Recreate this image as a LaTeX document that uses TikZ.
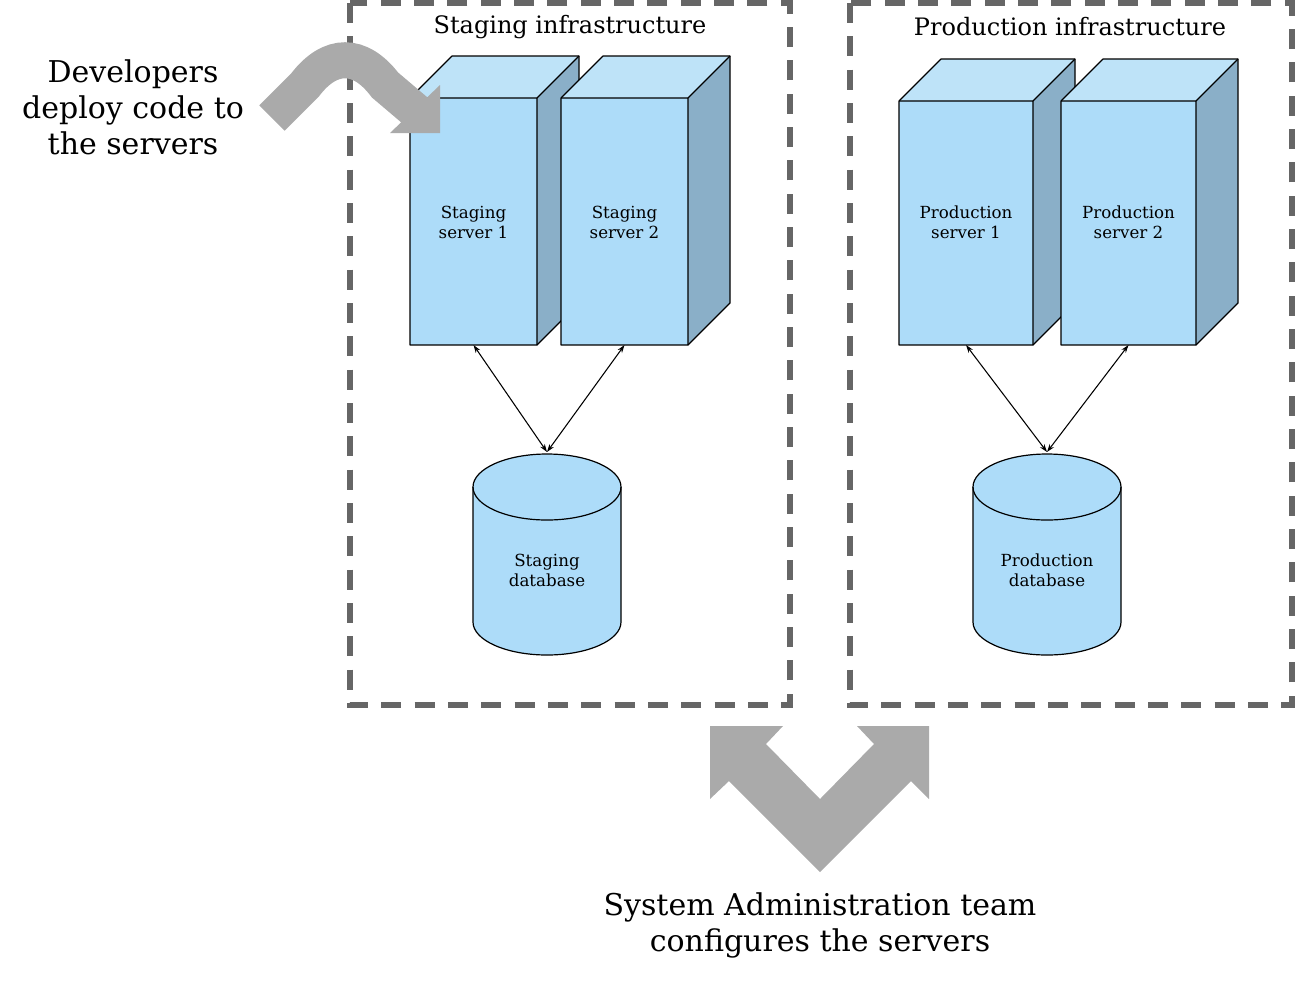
\documentclass[tikz,border=0pt]{standalone}
\usepackage{fontspec}
\setmainfont{DejaVu Serif}
\usetikzlibrary{arrows.meta,shapes.geometric}
\definecolor{front}{HTML}{ADDCF9}
\definecolor{topc}{HTML}{BEE3F8}
\definecolor{side}{HTML}{8AAFC8}
\definecolor{dash}{HTML}{666666}
\definecolor{arr}{HTML}{AAAAAA}
\begin{document}
\begin{tikzpicture}[x=0.75pt,y=-0.75pt,
  box/.style={draw=dash,line width=4.5pt,dash pattern=on 15pt off 10pt},
  face/.style={draw=black,line width=0.9pt,line join=round},
  lbl/.style={font=\fontsize{12.5}{15}\selectfont,align=center},
  title/.style={font=\fontsize{18}{22}\selectfont},
  big/.style={font=\fontsize{22.5}{27}\selectfont,align=center},
  link/.style={{Stealth[length=6pt,width=4pt]}-{Stealth[length=6pt,width=4pt]},line width=0.8pt}]
\useasboundingbox (0,0) rectangle (1303,997);
% boxes
\draw[box] (350,3) rectangle (790,705);
\draw[box] (850,3) rectangle (1292,705);
\node[title] (tS) at (570,27) {Staging infrastructure};
\node[title] (tP) at (1070,27) {Production infrastructure};
% servers
\newcommand{\srv}[6]{% x1 x2 y1 y2 name text
  \fill[topc] (#1,#3) -- (#1+42,#3-42) -- (#2+42,#3-42) -- (#2,#3) -- cycle;
  \fill[side] (#2,#3) -- (#2+42,#3-42) -- (#2+42,#4-42) -- (#2,#4) -- cycle;
  \fill[front] (#1,#3) rectangle (#2,#4);
  \draw[face] (#1,#3) -- (#1+42,#3-42) -- (#2+42,#3-42) -- (#2+42,#4-42) -- (#2,#4) -- (#1,#4) -- cycle;
  \draw[face] (#1,#3) -- (#2,#3) -- (#2+42,#3-42) (#2,#3) -- (#2,#4);
  \node[lbl] (#5) at ({(#1+#2)/2},222) {#6};
  \coordinate (#5b) at ({(#1+#2)/2},#4);
}
\srv{410}{537}{98}{345}{s1}{Staging\\server 1}
\srv{561}{688}{98}{345}{s2}{Staging\\server 2}
\srv{899}{1033}{101}{345}{p1}{Production\\server 1}
\srv{1061}{1196}{101}{345}{p2}{Production\\server 2}
% databases
\newcommand{\db}[3]{% cx name text
  \fill[front] (#1-74,487) -- (#1-74,622) arc[start angle=180,end angle=360,x radius=74,y radius=-33] -- (#1+74,487) -- cycle;
  \fill[front] (#1,487) ellipse[x radius=74,y radius=33];
  \draw[face] (#1-74,487) -- (#1-74,622) arc[start angle=180,end angle=360,x radius=74,y radius=-33] -- (#1+74,487);
  \draw[face] (#1,487) ellipse[x radius=74,y radius=33];
  \node[lbl] (#2) at (#1,570) {#3};
  \coordinate (#2t) at (#1,452);
}
\db{547}{sd}{Staging\\database}
\db{1047}{pd}{Production\\database}
\draw[link] (s1b) -- (sdt);
\draw[link] (s2b) -- (sdt);
\draw[link] (p1b) -- (pdt);
\draw[link] (p2b) -- (pdt);
% developer arrow
\draw[arr,line width=27pt] (272,118) -- (305,85) .. controls (330,52) and (360,52) .. (385,85) -- (418,113);
\fill[arr] (440,85) -- (440,133) -- (390,133) -- cycle;
\node[big] (dev) at (133,107) {Developers\\deploy code to\\the servers};
% sysadmin arrow
\fill[arr] (710,726) -- (783,726) -- (766,744) -- (820,799) -- (874,744) -- (857,726) -- (929,726) -- (929,799) -- (911,781) -- (820,872) -- (729,781) -- (710,799) -- cycle;
\node[big] (sys) at (820,925) {System Administration team\\configures the servers};
\end{tikzpicture}
\end{document}
